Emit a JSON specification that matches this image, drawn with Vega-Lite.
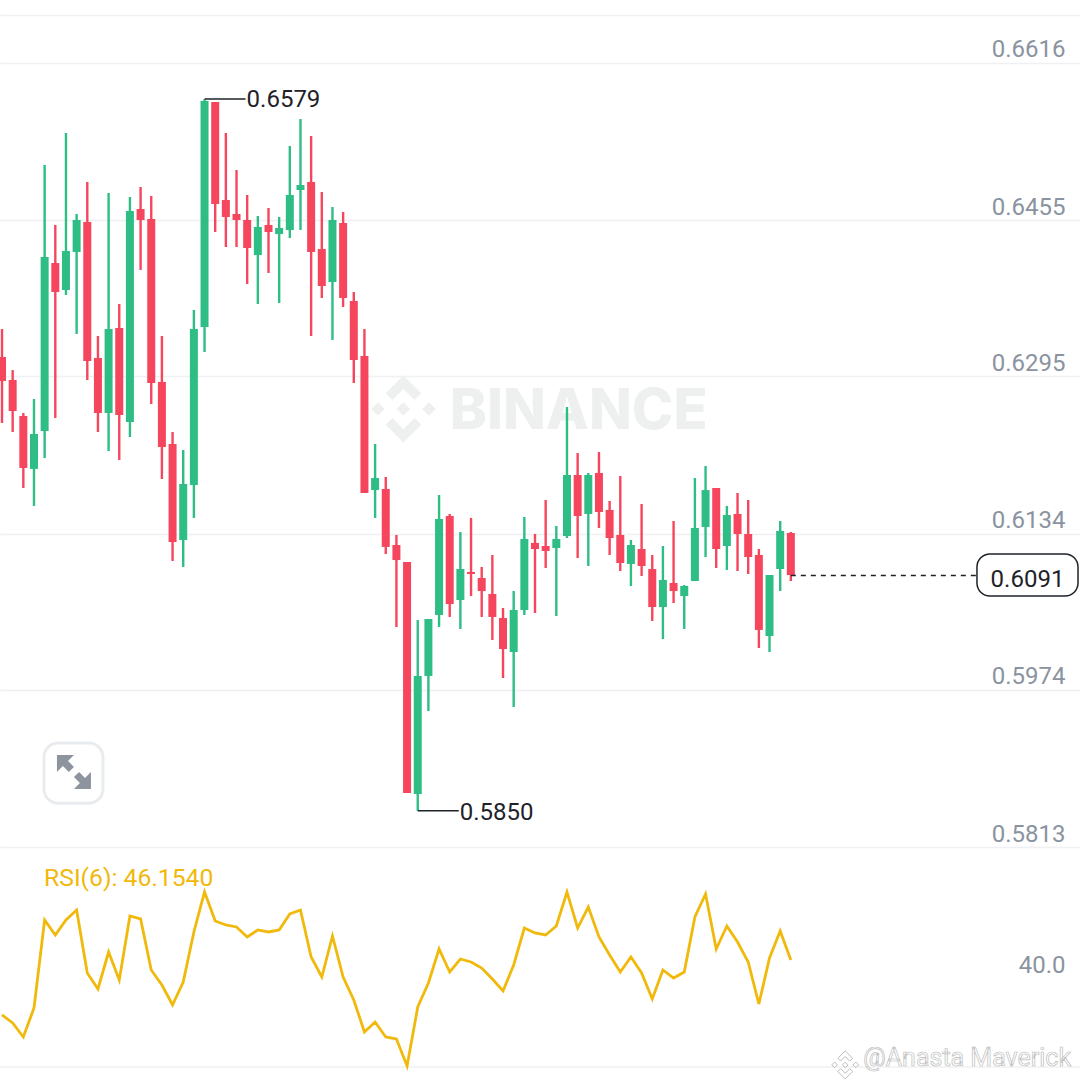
{
  "$schema": "https://vega.github.io/schema/vega-lite/v6.json",
  "padding": {"left": -4, "top": 0, "right": 0, "bottom": 0},
  "spacing": 0,
  "bounds": "flush",
  "background": "#ffffff",
  "config": {
    "font": "Roboto",
    "view": {"stroke": null},
    "axis": {"domain": false, "ticks": false, "title": null}
  },
  "datasets": {
    "candles": [
      {"i":0,"open":0.63149,"high":0.63435,"low":0.62473,"close":0.62903},
      {"i":1,"open":0.62913,"high":0.63015,"low":0.6238,"close":0.62596},
      {"i":2,"open":0.62544,"high":0.62575,"low":0.61807,"close":0.62012},
      {"i":3,"open":0.62002,"high":0.62718,"low":0.61623,"close":0.6236},
      {"i":4,"open":0.62391,"high":0.65115,"low":0.62114,"close":0.64173},
      {"i":5,"open":0.64111,"high":0.64501,"low":0.62524,"close":0.63814},
      {"i":6,"open":0.63835,"high":0.65443,"low":0.63784,"close":0.64234},
      {"i":7,"open":0.64224,"high":0.64613,"low":0.63384,"close":0.64552},
      {"i":8,"open":0.64531,"high":0.64941,"low":0.62913,"close":0.63108},
      {"i":9,"open":0.63138,"high":0.63364,"low":0.6238,"close":0.62575},
      {"i":10,"open":0.62575,"high":0.64828,"low":0.62186,"close":0.63435},
      {"i":11,"open":0.63446,"high":0.63691,"low":0.62094,"close":0.62555},
      {"i":12,"open":0.62483,"high":0.64787,"low":0.62329,"close":0.64644},
      {"i":13,"open":0.64664,"high":0.6489,"low":0.6404,"close":0.64552},
      {"i":14,"open":0.64562,"high":0.64798,"low":0.62667,"close":0.62882},
      {"i":15,"open":0.62893,"high":0.63364,"low":0.61899,"close":0.62227},
      {"i":16,"open":0.62258,"high":0.6238,"low":0.61059,"close":0.61254},
      {"i":17,"open":0.61274,"high":0.62196,"low":0.60998,"close":0.61848},
      {"i":18,"open":0.61838,"high":0.6363,"low":0.615,"close":0.63435},
      {"i":19,"open":0.63456,"high":0.6579,"low":0.632,"close":0.65771},
      {"i":20,"open":0.6576,"high":0.6576,"low":0.64429,"close":0.64716},
      {"i":21,"open":0.64757,"high":0.65443,"low":0.64275,"close":0.64582},
      {"i":22,"open":0.64613,"high":0.65064,"low":0.64275,"close":0.64552},
      {"i":23,"open":0.64552,"high":0.64808,"low":0.63896,"close":0.64265},
      {"i":24,"open":0.64193,"high":0.64593,"low":0.63691,"close":0.6448},
      {"i":25,"open":0.64501,"high":0.64675,"low":0.64009,"close":0.64429},
      {"i":26,"open":0.64408,"high":0.64582,"low":0.63702,"close":0.6447},
      {"i":27,"open":0.64449,"high":0.6531,"low":0.64367,"close":0.64808},
      {"i":28,"open":0.64859,"high":0.65586,"low":0.64449,"close":0.6491},
      {"i":29,"open":0.64941,"high":0.65412,"low":0.63364,"close":0.64224},
      {"i":30,"open":0.64255,"high":0.64839,"low":0.63753,"close":0.63876},
      {"i":31,"open":0.63917,"high":0.64685,"low":0.63323,"close":0.64552},
      {"i":32,"open":0.64521,"high":0.64634,"low":0.63661,"close":0.63753},
      {"i":33,"open":0.63722,"high":0.63814,"low":0.62882,"close":0.63118},
      {"i":34,"open":0.63159,"high":0.63435,"low":0.61756,"close":0.61756},
      {"i":35,"open":0.61786,"high":0.62258,"low":0.615,"close":0.61909},
      {"i":36,"open":0.61797,"high":0.6192,"low":0.61131,"close":0.61203},
      {"i":37,"open":0.61223,"high":0.61326,"low":0.60383,"close":0.61069},
      {"i":38,"open":0.61049,"high":0.61049,"low":0.58683,"close":0.58683},
      {"i":39,"open":0.58673,"high":0.60455,"low":0.585,"close":0.59881},
      {"i":40,"open":0.59881,"high":0.60465,"low":0.59523,"close":0.60465},
      {"i":41,"open":0.60506,"high":0.61735,"low":0.60383,"close":0.61489},
      {"i":42,"open":0.6152,"high":0.61541,"low":0.60486,"close":0.60619},
      {"i":43,"open":0.6066,"high":0.61356,"low":0.60363,"close":0.60977},
      {"i":44,"open":0.60947,"high":0.615,"low":0.60701,"close":0.60926},
      {"i":45,"open":0.60885,"high":0.60998,"low":0.60486,"close":0.60752},
      {"i":46,"open":0.60721,"high":0.61121,"low":0.6025,"close":0.60486},
      {"i":47,"open":0.60475,"high":0.60578,"low":0.59861,"close":0.60158},
      {"i":48,"open":0.60127,"high":0.60752,"low":0.59564,"close":0.60557},
      {"i":49,"open":0.60557,"high":0.6151,"low":0.60506,"close":0.61285},
      {"i":50,"open":0.61244,"high":0.61336,"low":0.60527,"close":0.61182},
      {"i":51,"open":0.61213,"high":0.61684,"low":0.60988,"close":0.61162},
      {"i":52,"open":0.61192,"high":0.61418,"low":0.60496,"close":0.61285},
      {"i":53,"open":0.61315,"high":0.62637,"low":0.61295,"close":0.6194},
      {"i":54,"open":0.6194,"high":0.62165,"low":0.6109,"close":0.6152},
      {"i":55,"open":0.61541,"high":0.61961,"low":0.61008,"close":0.6194},
      {"i":56,"open":0.61961,"high":0.62176,"low":0.61397,"close":0.61561},
      {"i":57,"open":0.61582,"high":0.61674,"low":0.61121,"close":0.61295},
      {"i":58,"open":0.61326,"high":0.6193,"low":0.60957,"close":0.61039},
      {"i":59,"open":0.61029,"high":0.61274,"low":0.60803,"close":0.61223},
      {"i":60,"open":0.61182,"high":0.61643,"low":0.60906,"close":0.61008},
      {"i":61,"open":0.60977,"high":0.61121,"low":0.60445,"close":0.60588},
      {"i":62,"open":0.60588,"high":0.61213,"low":0.6026,"close":0.60865},
      {"i":63,"open":0.60834,"high":0.61469,"low":0.60629,"close":0.60752},
      {"i":64,"open":0.60701,"high":0.60813,"low":0.60363,"close":0.60803},
      {"i":65,"open":0.60854,"high":0.61909,"low":0.60854,"close":0.61397},
      {"i":66,"open":0.61408,"high":0.62032,"low":0.611,"close":0.61786},
      {"i":67,"open":0.61807,"high":0.61807,"low":0.60988,"close":0.61182},
      {"i":68,"open":0.61213,"high":0.61623,"low":0.60967,"close":0.6153},
      {"i":69,"open":0.61541,"high":0.61756,"low":0.60957,"close":0.61336},
      {"i":70,"open":0.61336,"high":0.61684,"low":0.60926,"close":0.611},
      {"i":71,"open":0.61121,"high":0.61182,"low":0.60168,"close":0.60353},
      {"i":72,"open":0.60291,"high":0.60916,"low":0.60127,"close":0.60916},
      {"i":73,"open":0.60977,"high":0.61469,"low":0.60752,"close":0.61367},
      {"i":74,"open":0.61346,"high":0.61356,"low":0.60854,"close":0.60916}
    ],
    "rsi": [
      {"i":0,"rsi":28.35},{"i":1,"rsi":25.76},{"i":2,"rsi":21.23},{"i":3,"rsi":30.61},{"i":4,"rsi":59.09},
      {"i":5,"rsi":54.24},{"i":6,"rsi":59.09},{"i":7,"rsi":62.33},{"i":8,"rsi":41.94},{"i":9,"rsi":36.76},
      {"i":10,"rsi":48.74},{"i":11,"rsi":39.68},{"i":12,"rsi":60.39},{"i":13,"rsi":59.42},{"i":14,"rsi":42.91},
      {"i":15,"rsi":38.06},{"i":16,"rsi":31.59},{"i":17,"rsi":39.03},{"i":18,"rsi":55.21},{"i":19,"rsi":68.16},
      {"i":20,"rsi":58.77},{"i":21,"rsi":57.48},{"i":22,"rsi":56.83},{"i":23,"rsi":53.59},{"i":24,"rsi":55.86},
      {"i":25,"rsi":55.21},{"i":26,"rsi":55.86},{"i":27,"rsi":61.04},{"i":28,"rsi":62.33},{"i":29,"rsi":47.12},
      {"i":30,"rsi":40.65},{"i":31,"rsi":53.92},{"i":32,"rsi":40.65},{"i":33,"rsi":33.2},{"i":34,"rsi":22.85},
      {"i":35,"rsi":26.08},{"i":36,"rsi":21.23},{"i":37,"rsi":20.58},{"i":38,"rsi":11.84},{"i":39,"rsi":30.94},
      {"i":40,"rsi":38.71},{"i":41,"rsi":49.71},{"i":42,"rsi":42.27},{"i":43,"rsi":46.47},{"i":44,"rsi":45.5},
      {"i":45,"rsi":43.56},{"i":46,"rsi":40},{"i":47,"rsi":36.12},{"i":48,"rsi":44.53},{"i":49,"rsi":56.5},
      {"i":50,"rsi":54.89},{"i":51,"rsi":54.24},{"i":52,"rsi":57.15},{"i":53,"rsi":68.16},{"i":54,"rsi":56.5},
      {"i":55,"rsi":63.3},{"i":56,"rsi":53.59},{"i":57,"rsi":47.77},{"i":58,"rsi":42.27},{"i":59,"rsi":47.12},
      {"i":60,"rsi":41.94},{"i":61,"rsi":33.53},{"i":62,"rsi":42.91},{"i":63,"rsi":40.32},{"i":64,"rsi":42.27},
      {"i":65,"rsi":60.06},{"i":66,"rsi":67.51},{"i":67,"rsi":49.71},{"i":68,"rsi":57.15},{"i":69,"rsi":51.97},
      {"i":70,"rsi":45.5},{"i":71,"rsi":31.91},{"i":72,"rsi":46.8},{"i":73,"rsi":55.53},{"i":74,"rsi":46.154}
    ],
    "extremes": [
      {"i":19,"i2":22.85,"price":0.6579,"labelAt":0.6578,"label":"0.6579"},
      {"i":39,"i2":42.85,"price":0.585,"labelAt":0.5848,"label":"0.5850"}
    ],
    "last": [
      {"i":74,"i2":91.46,"price":0.6091}
    ],
    "pill": [
      {"i":91.46,"i2":100.94,"price":0.61131,"price2":0.60701,"mid":96.2,"last":0.6091,"label":"0.6091"}
    ],
    "priceGrid": [{"i":27},{"i":61}],
    "rsiGrid": [{"i":27},{"i":61}],
    "mark": [{"i":42,"price":0.6264,"label":"BINANCE"}],
    "logo": [{"i":37.66,"price":0.62616}],
    "expandBox": [{"i":3.94,"i2":9.47,"price":0.59194,"price2":0.58579}],
    "expandIcon": [{"i":6.75,"price":0.58898}],
    "rsiLabel": [{"i":3.94,"rsi":72.69,"label":"RSI(6): 46.1540"}],
    "rsiFloor": [{"rsi":11.5}],
    "credit": [{"i":80.8,"rsi":14.7,"label":"@Anasta Maverick"}],
    "creditLogo": [{"i":79.1,"rsi":12.2}]
  },
  "vconcat": [
    {
      "width": 1080,
      "height": 847,
      "encoding": {
        "x": {"field": "i", "type": "quantitative", "axis": null, "scale": {"domain": [-0.188, 101.126], "nice": false, "zero": false, "padding": 0}},
        "y": {
          "field": "price",
          "type": "quantitative",
          "scale": {"domain": [0.5813, 0.66805], "nice": false, "zero": false},
          "axis": {
            "orient": "right",
            "values": [0.66651, 0.6616, 0.6455, 0.6295, 0.6134, 0.5974, 0.5813],
            "labelExpr": "datum.value > 0.663 ? '' : format(datum.value, '.4f')",
            "grid": true,
            "gridColor": "#eef0f3",
            "gridWidth": 1.5,
            "labelAlign": "right",
            "labelPadding": -15,
            "labelOffset": -13,
            "labelFontSize": 24,
            "labelColor": "#8a939f",
            "labelFont": "Roboto"
          }
        }
      },
      "layer": [
        {
          "data": {"name": "priceGrid"},
          "mark": {"type": "rule", "color": "#eef0f3", "strokeWidth": 1.5},
          "encoding": {
            "y": {"datum": 0.66651, "type": "quantitative"},
            "y2": {"datum": 0.5813}
          }
        },
        {
          "data": {"name": "logo"},
          "mark": {
            "type": "point",
            "filled": true,
            "opacity": 1,
            "color": "#eef0f0",
            "size": 4500,
            "shape": "M0 -.2 L.2 0 L0 .2 L-.2 0Z M-.76 -.2 L-.56 0 L-.76 .2 L-.96 0Z M.76 -.2 L.96 0 L.76 .2 L.56 0Z M0 -.6 L-.33 -.27 L-.53 -.47 L0 -1 L.53 -.47 L.33 -.27Z M0 .6 L.33 .27 L.53 .47 L0 1 L-.53 .47 L-.33 .27Z"
          }
        },
        {
          "data": {"name": "mark"},
          "mark": {"type": "text", "align": "left", "baseline": "middle", "font": "Inter", "fontWeight": 800, "fontSize": 56, "color": "#eef0f0", "dx": 0, "dy": 5},
          "encoding": {"text": {"field": "label"}}
        },
        {
          "data": {"name": "candles"},
          "mark": {"type": "rule", "strokeWidth": 2.4, "clip": true},
          "encoding": {
            "y": {"field": "high", "type": "quantitative"},
            "y2": {"field": "low"},
            "color": {"condition": {"test": "datum.close >= datum.open", "value": "#2EBD85"}, "value": "#F6465D"}
          }
        },
        {
          "data": {"name": "candles"},
          "mark": {"type": "bar", "size": 8, "clip": true},
          "encoding": {
            "y": {"field": "open", "type": "quantitative"},
            "y2": {"field": "close"},
            "color": {"condition": {"test": "datum.close >= datum.open", "value": "#2EBD85"}, "value": "#F6465D"}
          }
        },
        {
          "data": {"name": "extremes"},
          "mark": {"type": "rule", "color": "#1e2329", "strokeWidth": 1.5},
          "encoding": {"x2": {"field": "i2"}}
        },
        {
          "data": {"name": "extremes"},
          "mark": {"type": "text", "align": "left", "baseline": "middle", "fontSize": 24, "color": "#1e2329", "dx": 1},
          "encoding": {
            "x": {"field": "i2", "type": "quantitative"},
            "y": {"field": "labelAt", "type": "quantitative"},
            "text": {"field": "label"}
          }
        },
        {
          "data": {"name": "last"},
          "mark": {"type": "rule", "color": "#1e2329", "strokeWidth": 1.5, "strokeDash": [5, 5]},
          "encoding": {"x2": {"field": "i2"}}
        },
        {
          "data": {"name": "pill"},
          "mark": {"type": "rect", "fill": "#ffffff", "stroke": "#1e2329", "strokeWidth": 1.5, "cornerRadius": 13},
          "encoding": {"x2": {"field": "i2"}, "y2": {"field": "price2"}}
        },
        {
          "data": {"name": "pill"},
          "mark": {"type": "text", "align": "center", "baseline": "middle", "fontSize": 24, "color": "#1e2329", "dy": 4},
          "encoding": {
            "x": {"field": "mid", "type": "quantitative"},
            "y": {"field": "last", "type": "quantitative"},
            "text": {"field": "label"}
          }
        },
        {
          "data": {"name": "expandBox"},
          "mark": {"type": "rect", "fill": "#ffffff", "stroke": "#e9ecef", "strokeWidth": 3, "cornerRadius": 14},
          "encoding": {"x2": {"field": "i2"}, "y2": {"field": "price2"}}
        },
        {
          "data": {"name": "expandIcon"},
          "mark": {
            "type": "point",
            "filled": true,
            "opacity": 1,
            "color": "#8d949e",
            "size": 1156,
            "shape": "M-1 -1 L0 -1 L-.35 -.65 L0 -.3 L-.3 0 L-.65 -.35 L-1 0Z M1 1 L0 1 L.35 .65 L0 .3 L.3 0 L.65 .35 L1 0Z"
          }
        }
      ]
    },
    {
      "width": 1080,
      "height": 233,
      "encoding": {
        "x": {"field": "i", "type": "quantitative", "axis": null, "scale": {"domain": [-0.188, 101.126], "nice": false, "zero": false, "padding": 0}},
        "y": {
          "field": "rsi",
          "type": "quantitative",
          "scale": {"domain": [7.31, 82.72], "nice": false, "zero": false},
          "axis": {
            "orient": "right",
            "values": [40],
            "format": ".1f",
            "grid": false,
            "labelAlign": "right",
            "labelPadding": -15,
            "labelOffset": -13,
            "labelFontSize": 24,
            "labelColor": "#8a939f",
            "labelFont": "Roboto"
          }
        }
      },
      "layer": [
        {
          "data": {"name": "rsiGrid"},
          "mark": {"type": "rule", "color": "#eef0f3", "strokeWidth": 1.5},
          "encoding": {
            "y": {"datum": 82.72, "type": "quantitative"},
            "y2": {"datum": 11.5}
          }
        },
        {
          "data": {"name": "rsiFloor"},
          "mark": {"type": "rule", "color": "#eef0f3", "strokeWidth": 1.5},
          "encoding": {"x": {"value": 0}, "x2": {"value": 1080}}
        },
        {
          "data": {"name": "rsi"},
          "mark": {"type": "line", "color": "#F0B90B", "strokeWidth": 2.8, "interpolate": "linear"}
        },
        {
          "data": {"name": "rsiLabel"},
          "mark": {"type": "text", "align": "left", "baseline": "middle", "fontSize": 24.7, "color": "#F0B90B", "dy": 1},
          "encoding": {"text": {"field": "label"}}
        },
        {
          "data": {"name": "creditLogo"},
          "mark": {
            "type": "point",
            "filled": false,
            "opacity": 1,
            "color": "#bdbdbd",
            "strokeWidth": 1,
            "size": 784,
            "shape": "M0 -.2 L.2 0 L0 .2 L-.2 0Z M-.76 -.2 L-.56 0 L-.76 .2 L-.96 0Z M.76 -.2 L.96 0 L.76 .2 L.56 0Z M0 -.6 L-.33 -.27 L-.53 -.47 L0 -1 L.53 -.47 L.33 -.27Z M0 .6 L.33 .27 L.53 .47 L0 1 L-.53 .47 L-.33 .27Z"
          }
        },
        {
          "data": {"name": "credit"},
          "mark": {"type": "text", "align": "left", "baseline": "middle", "fontSize": 25, "fill": "#ffffff", "stroke": "#bdbdbd", "strokeWidth": 0.7, "dy": 1},
          "encoding": {"text": {"field": "label"}}
        }
      ]
    }
  ]
}
